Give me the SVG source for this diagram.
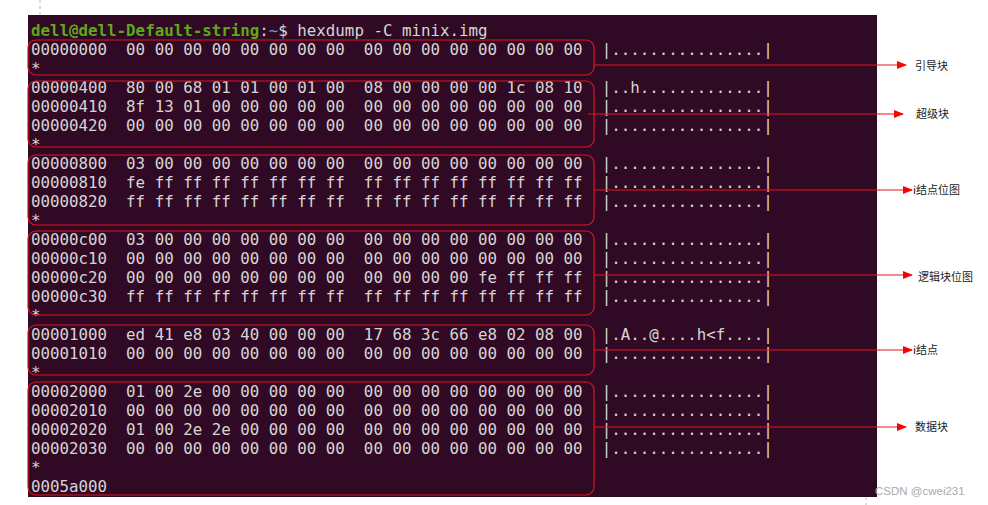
<svg xmlns="http://www.w3.org/2000/svg" width="988" height="505" viewBox="0 0 988 505">
<style>
.t{font-family:"DejaVu Sans Mono",monospace;font-size:15.8px;fill:#d8d4d6;white-space:pre}
.b{fill:none;stroke:#e0141e;stroke-width:1.2}
.c{stroke:#e8141e;stroke-width:1.2;fill:none}
.l{font-family:"Noto Sans CJK SC",sans-serif;font-size:11px;fill:#222}
</style>
<defs><marker id="a" markerWidth="10" markerHeight="8" refX="9" refY="4" orient="auto" markerUnits="userSpaceOnUse"><path d="M0,0L10,4L0,8z" fill="#f00"/></marker></defs>
<rect width="988" height="505" fill="#fff"/>
<line x1="40" y1="0" x2="40" y2="15" stroke="#bbb" stroke-dasharray="3,3"/>
<line x1="866" y1="497" x2="866" y2="505" stroke="#bbb" stroke-dasharray="3,3"/>
<rect x="28" y="15" width="849" height="482" fill="#300a24"/>
<g id="text">
<text class="t" x="31" y="36" xml:space="preserve"><tspan fill="#5fa81a" font-weight="bold">dell@dell-Default-string</tspan>:<tspan fill="#6e9cd0">~</tspan>$ hexdump -C minix.img</text>
<text class="t" x="31" y="55" xml:space="preserve">00000000  00 00 00 00 00 00 00 00  00 00 00 00 00 00 00 00  |................|</text>
<text class="t" x="31" y="74">*</text>
<text class="t" x="31" y="93" xml:space="preserve">00000400  80 00 68 01 01 00 01 00  08 00 00 00 00 1c 08 10  |..h.............|</text>
<text class="t" x="31" y="112" xml:space="preserve">00000410  8f 13 01 00 00 00 00 00  00 00 00 00 00 00 00 00  |................|</text>
<text class="t" x="31" y="131" xml:space="preserve">00000420  00 00 00 00 00 00 00 00  00 00 00 00 00 00 00 00  |................|</text>
<text class="t" x="31" y="150">*</text>
<text class="t" x="31" y="169" xml:space="preserve">00000800  03 00 00 00 00 00 00 00  00 00 00 00 00 00 00 00  |................|</text>
<text class="t" x="31" y="188" xml:space="preserve">00000810  fe ff ff ff ff ff ff ff  ff ff ff ff ff ff ff ff  |................|</text>
<text class="t" x="31" y="207" xml:space="preserve">00000820  ff ff ff ff ff ff ff ff  ff ff ff ff ff ff ff ff  |................|</text>
<text class="t" x="31" y="226">*</text>
<text class="t" x="31" y="245" xml:space="preserve">00000c00  03 00 00 00 00 00 00 00  00 00 00 00 00 00 00 00  |................|</text>
<text class="t" x="31" y="264" xml:space="preserve">00000c10  00 00 00 00 00 00 00 00  00 00 00 00 00 00 00 00  |................|</text>
<text class="t" x="31" y="283" xml:space="preserve">00000c20  00 00 00 00 00 00 00 00  00 00 00 00 fe ff ff ff  |................|</text>
<text class="t" x="31" y="302" xml:space="preserve">00000c30  ff ff ff ff ff ff ff ff  ff ff ff ff ff ff ff ff  |................|</text>
<text class="t" x="31" y="321">*</text>
<text class="t" x="31" y="340" xml:space="preserve">00001000  ed 41 e8 03 40 00 00 00  17 68 3c 66 e8 02 08 00  |.A..@....h&lt;f....|</text>
<text class="t" x="31" y="359" xml:space="preserve">00001010  00 00 00 00 00 00 00 00  00 00 00 00 00 00 00 00  |................|</text>
<text class="t" x="31" y="378">*</text>
<text class="t" x="31" y="397" xml:space="preserve">00002000  01 00 2e 00 00 00 00 00  00 00 00 00 00 00 00 00  |................|</text>
<text class="t" x="31" y="416" xml:space="preserve">00002010  00 00 00 00 00 00 00 00  00 00 00 00 00 00 00 00  |................|</text>
<text class="t" x="31" y="435" xml:space="preserve">00002020  01 00 2e 2e 00 00 00 00  00 00 00 00 00 00 00 00  |................|</text>
<text class="t" x="31" y="454" xml:space="preserve">00002030  00 00 00 00 00 00 00 00  00 00 00 00 00 00 00 00  |................|</text>
<text class="t" x="31" y="473">*</text>
<text class="t" x="31" y="492">0005a000</text>
</g>
<g id="n1"><rect class="b" x="28" y="40" width="566" height="35" rx="8"/><text class="l" x="915" y="70">引导块</text></g>
<g id="n2"><rect class="b" x="28" y="81" width="566" height="66" rx="8"/><text class="l" x="916" y="118">超级块</text></g>
<g id="n3"><rect class="b" x="28" y="155" width="566" height="70" rx="8"/><text class="l" x="913" y="194">i结点位图</text></g>
<g id="n4"><rect class="b" x="28" y="231" width="566" height="84" rx="8"/><text class="l" x="918" y="281">逻辑块位图</text></g>
<g id="n5"><rect class="b" x="28" y="325" width="566" height="50" rx="8"/><text class="l" x="913" y="354">i结点</text></g>
<g id="n6"><rect class="b" x="28" y="382" width="566" height="113" rx="8"/><text class="l" x="915" y="431">数据块</text></g>
<g id="connectors">
<line class="c" x1="594" y1="65" x2="906" y2="65" marker-end="url(#a)"/>
<line class="c" x1="588" y1="114" x2="903" y2="114" marker-end="url(#a)"/>
<line class="c" x1="594" y1="190" x2="912" y2="190" marker-end="url(#a)"/>
<line class="c" x1="594" y1="275" x2="912" y2="275" marker-end="url(#a)"/>
<line class="c" x1="594" y1="350" x2="912" y2="350" marker-end="url(#a)"/>
<line class="c" x1="594" y1="427" x2="906" y2="427" marker-end="url(#a)"/>
</g>
<text x="875" y="495" font-family="Liberation Sans,sans-serif" font-size="11.5" fill="#aaa">CSDN @cwei231</text>
</svg>
